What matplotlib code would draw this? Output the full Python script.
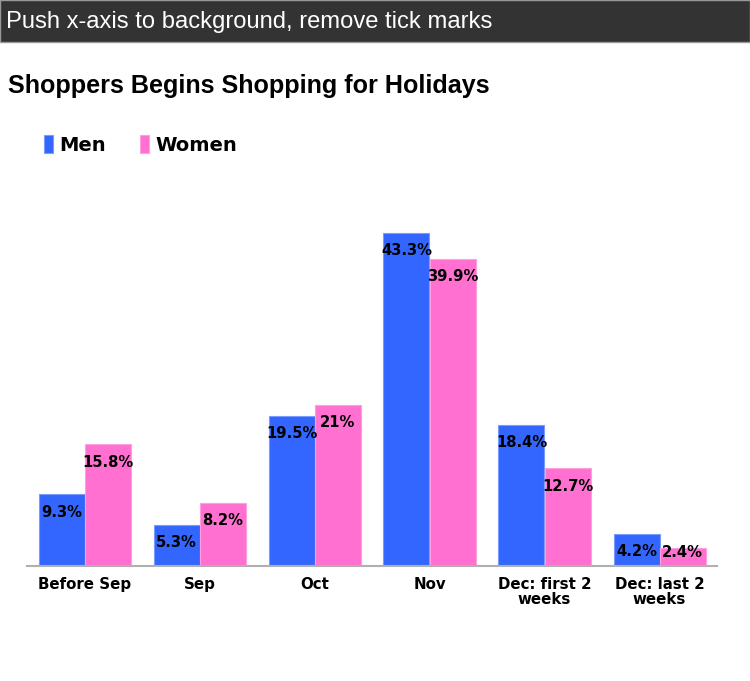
import matplotlib.pyplot as plt
import numpy as np

# data
categories = ['Before Sep', 'Sep', 'Oct', 'Nov', 'Dec: first 2\nweeks', 'Dec: last 2\nweeks']
men = [9.3, 5.3, 19.5, 43.3, 18.4, 4.2]
women = [15.8, 8.2, 21, 39.9, 12.7, 2.4]
men_labels = ['9.3%', '5.3%', '19.5%', '43.3%', '18.4%', '4.2%']
women_labels = ['15.8%', '8.2%', '21%', '39.9%', '12.7%', '2.4%']

blue = '#3366ff'
pink = '#ff70d0'

fig = plt.figure(figsize=(7.5, 6.81), dpi=100)

# header strip
fig.patches.append(plt.Rectangle((0, 1 - 42 / 681), 1, 42 / 681, transform=fig.transFigure,
                                 facecolor='#333333', edgecolor='#999999', lw=1))
fig.text(6 / 750, 1 - 22 / 681, 'Push x-axis to background, remove tick marks', color='white',
         fontsize=17.1, va='center', ha='left', family='Liberation Sans')

fig.text(8 / 750, 1 - 86 / 681, 'Shoppers Begins Shopping for Holidays', color='black',
         fontsize=18.1, fontweight='bold', va='center', ha='left', family='Liberation Sans')

ax = fig.add_axes([27 / 750, 115 / 681, 690 / 750, 384.5 / 681])
x = np.arange(len(categories))
w = 0.4
b1 = ax.bar(x - w / 2, men, w, color=blue, edgecolor='#7a9cff', lw=0.8, label='Men')
b2 = ax.bar(x + w / 2, women, w, color=pink, edgecolor='#ff9fe0', lw=0.8, label='Women')

# value labels just inside the bar top, kept above the baseline for short bars
for bars, labs in ((b1, men_labels), (b2, women_labels)):
    for r, t in zip(bars, labs):
        ax.text(r.get_x() + r.get_width() / 2, max(r.get_height() - 2.3, 1.8), t,
                ha='center', va='center', fontsize=10.6, fontweight='bold', color='black')

ax.set_xlim(-0.5, len(categories) - 0.5)
ax.set_ylim(0, 50)
ax.set_xticks(x)
ax.set_xticklabels(categories, fontsize=10.8, fontweight='bold', linespacing=0.95)
ax.tick_params(axis='x', length=0, pad=8)
ax.set_yticks([])
for s in ('top', 'right', 'left'):
    ax.spines[s].set_visible(False)
ax.spines['bottom'].set_color('#b0b0b0')
ax.spines['bottom'].set_linewidth(1.5)

fig.legend(handles=[b1, b2], labels=['Men', 'Women'], loc='center left',
           bbox_to_anchor=(26 / 750, 1 - 145 / 681), ncol=2, frameon=False,
           prop={'size': 14, 'weight': 'bold'}, handlelength=0.5, handleheight=1.0,
           handletextpad=0.3, columnspacing=1.75)

plt.savefig('out.png', dpi=100)
